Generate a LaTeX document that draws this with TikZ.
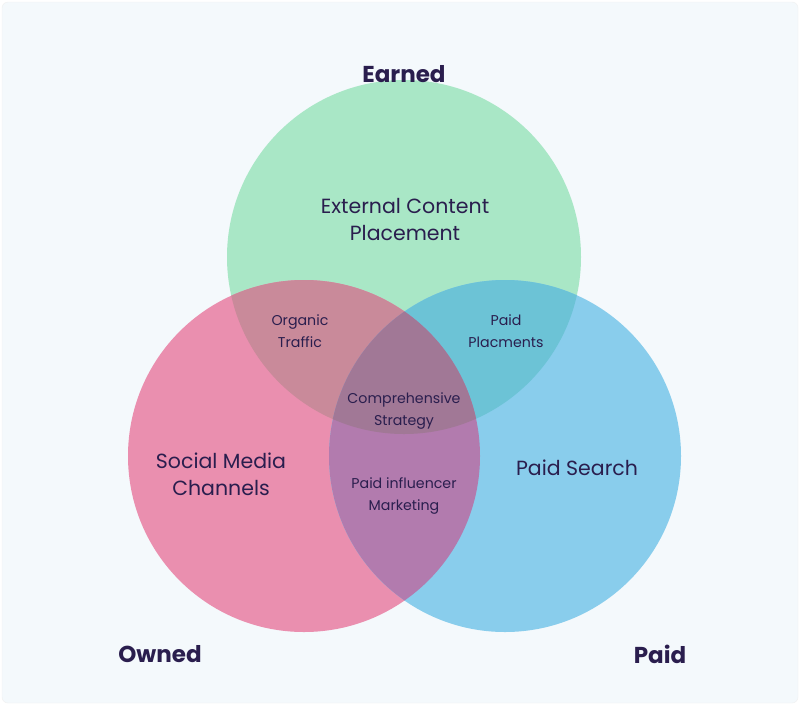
\documentclass[tikz,border=0pt]{standalone}
\usepackage{fontspec}
\setmainfont{Poppins}
\begin{document}
\begin{tikzpicture}[x=1pt,y=-1pt,
  lbl/.style={text=txt,align=center,font=\fontsize{20.5}{27}\selectfont},
  sm/.style={text=txt,align=center,font=\fontsize{14.2}{21.5}\selectfont},
  big/.style={text=txt,font=\fontsize{23}{27}\selectfont\bfseries}]
\definecolor{bg}{HTML}{F4F9FC}
\definecolor{txt}{HTML}{2A1E4E}
\definecolor{cg}{HTML}{A9E7C6}
\definecolor{cp}{HTML}{EA8FAF}
\definecolor{cb}{HTML}{89CDEC}
\definecolor{cgp}{HTML}{C98A9A}
\definecolor{cgb}{HTML}{6CC3D6}
\definecolor{cpb}{HTML}{B27BAE}
\definecolor{cgpb}{HTML}{A17896}
\fill[white] (0,0) rectangle (800,705);
\fill[bg, draw=black!6, rounded corners=6] (2,2) rectangle (798,703);
\def\G{(404,257) circle (177)}
\def\P{(304,456) circle (176)}
\def\B{(505,456) circle (176)}
\fill[cg] \G; \fill[cp] \P; \fill[cb] \B;
\begin{scope}\clip \G; \fill[cgp] \P; \fill[cgb] \B; \end{scope}
\begin{scope}\clip \P; \fill[cpb] \B; \end{scope}
\begin{scope}\clip \G; \clip \P; \fill[cgpb] \B; \end{scope}
\node[big] (earned) at (404,74) {Earned};
\node[big] (owned) at (160,654) {Owned};
\node[big] (paid) at (660,654) {Paid};
\node[lbl] (ext) at (405,219) {External Content\\Placement};
\node[lbl] (soc) at (221,474) {Social Media\\Channels};
\node[lbl] (ps) at (577,468) {Paid Search};
\node[sm] (org) at (300,331) {Organic\\Traffic};
\node[sm] (pp) at (506,331) {Paid\\Placments};
\node[sm] (cs) at (404,411) {Comprehensive\\Strategy};
\node[sm] (pi) at (404,496) {Paid influencer\\Marketing};
\end{tikzpicture}
\end{document}
